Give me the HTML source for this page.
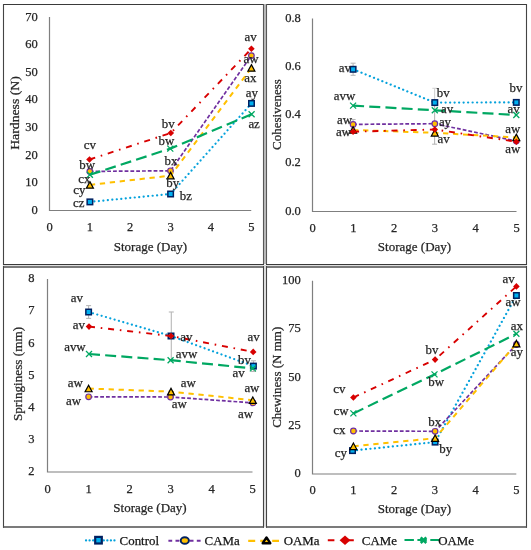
<!DOCTYPE html><html><head><meta charset="utf-8"><style>html,body{margin:0;padding:0;background:#fff;}svg{display:block;}body{position:relative;width:531px;height:550px;overflow:hidden;}</style></head><body>
<svg width="531" height="550" viewBox="0 0 531 550" font-family='"Liberation Serif", serif' fill="#262626">
<rect x="0" y="0" width="531" height="550" fill="#fff"/>
<rect x="264" y="4" width="2" height="260" fill="#bdbdbd"/>
<rect x="264" y="265" width="2" height="262" fill="#e4e4e4"/>
<rect x="3" y="265" width="524" height="1" fill="#dedede"/>
<path d="M3.0,4.5 L264.0,4.5" stroke="#3a3a3a" stroke-width="1.1" fill="none"/>
<path d="M3.5,4 L3.5,265" stroke="#444" stroke-width="1.1" fill="none"/>
<path d="M263.5,4 L263.5,265" stroke="#585858" stroke-width="1.1" fill="none"/>
<path d="M3.0,264.5 L264.0,264.5" stroke="#3a3a3a" stroke-width="1.1" fill="none"/>
<path d="M3.0,267 L264.0,267" stroke="#7a7a7a" stroke-width="2" fill="none"/>
<path d="M3.5,266 L3.5,527.8" stroke="#444" stroke-width="1.1" fill="none"/>
<path d="M263.5,266 L263.5,527.8" stroke="#444" stroke-width="1.1" fill="none"/>
<path d="M3.0,527 L264.0,527" stroke="#4f4f4f" stroke-width="1.6" fill="none"/>
<path d="M266.0,4.5 L527.0,4.5" stroke="#3a3a3a" stroke-width="1.1" fill="none"/>
<path d="M266.5,4 L266.5,265" stroke="#585858" stroke-width="1.1" fill="none"/>
<path d="M526.5,4 L526.5,265" stroke="#444" stroke-width="1.1" fill="none"/>
<path d="M266.0,264.5 L527.0,264.5" stroke="#3a3a3a" stroke-width="1.1" fill="none"/>
<path d="M266.0,267 L527.0,267" stroke="#7a7a7a" stroke-width="2" fill="none"/>
<path d="M266.5,266 L266.5,527.8" stroke="#444" stroke-width="1.1" fill="none"/>
<path d="M526.5,266 L526.5,527.8" stroke="#444" stroke-width="1.1" fill="none"/>
<path d="M266.0,527 L527.0,527" stroke="#4f4f4f" stroke-width="1.6" fill="none"/>
<g>
<path d="M49.5,17 L49.5,210.5 L251.25,210.5" fill="none" stroke="#7f7f7f" stroke-width="1.2"/>
<path d="M89.90,201.90 L170.60,194.00 L251.50,103.40" fill="none" stroke="#05a2dc" stroke-width="2.2" stroke-dasharray="0.1 4.4" stroke-linecap="round"/>
<rect x="87.15" y="199.15" width="5.50" height="5.50" fill="#00b0f0" stroke="#002060" stroke-width="1.5"/>
<rect x="167.85" y="191.25" width="5.50" height="5.50" fill="#00b0f0" stroke="#002060" stroke-width="1.5"/>
<rect x="248.75" y="100.65" width="5.50" height="5.50" fill="#00b0f0" stroke="#002060" stroke-width="1.5"/>
<path d="M89.80,171.40 L170.50,170.80 L251.40,55.60" fill="none" stroke="#7030a0" stroke-width="1.7" stroke-dasharray="3.8 2.0" stroke-linecap="butt"/>
<ellipse cx="89.8" cy="171.4" rx="2.80" ry="2.80" fill="#ffc000" stroke="#7030a0" stroke-width="1.2"/>
<ellipse cx="170.5" cy="170.8" rx="2.80" ry="2.80" fill="#ffc000" stroke="#7030a0" stroke-width="1.2"/>
<ellipse cx="251.4" cy="55.6" rx="2.80" ry="2.80" fill="#ffc000" stroke="#7030a0" stroke-width="1.2"/>
<path d="M89.90,184.90 L170.60,175.60 L251.40,67.90" fill="none" stroke="#ffc000" stroke-width="2.0" stroke-dasharray="5.3 4.7" stroke-linecap="butt"/>
<path d="M89.90,181.65 L93.40,188.15 L86.40,188.15 Z" fill="#ffc000" stroke="#000" stroke-width="1.2" stroke-linejoin="miter"/>
<path d="M170.60,172.35 L174.10,178.85 L167.10,178.85 Z" fill="#ffc000" stroke="#000" stroke-width="1.2" stroke-linejoin="miter"/>
<path d="M251.40,64.65 L254.90,71.15 L247.90,71.15 Z" fill="#ffc000" stroke="#000" stroke-width="1.2" stroke-linejoin="miter"/>
<path d="M89.50,159.50 L170.80,133.00 L251.40,48.80" fill="none" stroke="#d80000" stroke-width="1.9" stroke-dasharray="6 5.8 1.6 5.8" stroke-linecap="butt"/>
<path d="M89.50,156.20 L92.80,159.50 L89.50,162.80 L86.20,159.50 Z" fill="#d80000"/>
<path d="M170.80,129.70 L174.10,133.00 L170.80,136.30 L167.50,133.00 Z" fill="#d80000"/>
<path d="M251.40,45.50 L254.70,48.80 L251.40,52.10 L248.10,48.80 Z" fill="#d80000"/>
<path d="M89.90,174.80 L170.30,148.60 L251.60,114.20" fill="none" stroke="#00a862" stroke-width="2.2" stroke-dasharray="11 5.2" stroke-linecap="butt"/>
<path d="M86.90,171.80 L92.90,177.80 M92.90,171.80 L86.90,177.80" stroke="#00a862" stroke-width="1.3" fill="none"/>
<path d="M167.30,145.60 L173.30,151.60 M173.30,145.60 L167.30,151.60" stroke="#00a862" stroke-width="1.3" fill="none"/>
<path d="M248.60,111.20 L254.60,117.20 M254.60,111.20 L248.60,117.20" stroke="#00a862" stroke-width="1.3" fill="none"/>
</g>
<g>
<path d="M312.5,18.4 L312.5,211.5 L516.5,211.5" fill="none" stroke="#7f7f7f" stroke-width="1.2"/>
<path d="M353.1,63.2 L353.1,75.3" stroke="#b8b8b8" stroke-width="1.1" fill="none"/>
<path d="M350.6,63.2 L355.6,63.2" stroke="#b8b8b8" stroke-width="1.1"/>
<path d="M350.6,75.3 L355.6,75.3" stroke="#b8b8b8" stroke-width="1.1"/>
<path d="M353.1,119.5 L353.1,129.0" stroke="#b8b8b8" stroke-width="1.1" fill="none"/>
<path d="M350.6,119.5 L355.6,119.5" stroke="#b8b8b8" stroke-width="1.1"/>
<path d="M350.6,129.0 L355.6,129.0" stroke="#b8b8b8" stroke-width="1.1"/>
<path d="M434.6,102 L434.6,144.2" stroke="#b8b8b8" stroke-width="1.1" fill="none"/>
<path d="M432.1,144.2 L437.1,144.2" stroke="#b8b8b8" stroke-width="1.1"/>
<path d="M434.6,88.3 L434.6,102" stroke="#d2d2d2" stroke-width="1.1" fill="none"/>
<path d="M432.35,88.3 L436.85,88.3" stroke="#d2d2d2" stroke-width="1.1"/>
<path d="M353.10,69.30 L434.80,102.60 L516.30,102.40" fill="none" stroke="#05a2dc" stroke-width="2.2" stroke-dasharray="0.1 4.4" stroke-linecap="round"/>
<rect x="350.35" y="66.55" width="5.50" height="5.50" fill="#00b0f0" stroke="#002060" stroke-width="1.5"/>
<rect x="432.05" y="99.85" width="5.50" height="5.50" fill="#00b0f0" stroke="#002060" stroke-width="1.5"/>
<rect x="513.55" y="99.65" width="5.50" height="5.50" fill="#00b0f0" stroke="#002060" stroke-width="1.5"/>
<path d="M353.10,124.40 L434.80,123.70 L516.30,141.00" fill="none" stroke="#7030a0" stroke-width="1.7" stroke-dasharray="3.8 2.0" stroke-linecap="butt"/>
<ellipse cx="353.1" cy="124.4" rx="2.80" ry="2.80" fill="#ffc000" stroke="#7030a0" stroke-width="1.2"/>
<ellipse cx="434.8" cy="123.7" rx="2.80" ry="2.80" fill="#ffc000" stroke="#7030a0" stroke-width="1.2"/>
<ellipse cx="516.3" cy="141.0" rx="2.80" ry="2.80" fill="#ffc000" stroke="#7030a0" stroke-width="1.2"/>
<path d="M353.10,130.00 L434.80,132.80 L516.30,137.40" fill="none" stroke="#ffc000" stroke-width="2.0" stroke-dasharray="5.3 4.7" stroke-linecap="butt"/>
<path d="M353.10,126.75 L356.60,133.25 L349.60,133.25 Z" fill="#ffc000" stroke="#000" stroke-width="1.2" stroke-linejoin="miter"/>
<path d="M434.80,129.55 L438.30,136.05 L431.30,136.05 Z" fill="#ffc000" stroke="#000" stroke-width="1.2" stroke-linejoin="miter"/>
<path d="M516.30,134.15 L519.80,140.65 L512.80,140.65 Z" fill="#ffc000" stroke="#000" stroke-width="1.2" stroke-linejoin="miter"/>
<path d="M353.10,131.70 L434.80,129.50 L516.30,141.70" fill="none" stroke="#d80000" stroke-width="1.9" stroke-dasharray="6 5.8 1.6 5.8" stroke-linecap="butt"/>
<path d="M353.10,128.40 L356.40,131.70 L353.10,135.00 L349.80,131.70 Z" fill="#d80000"/>
<path d="M434.80,126.20 L438.10,129.50 L434.80,132.80 L431.50,129.50 Z" fill="#d80000"/>
<path d="M516.30,138.40 L519.60,141.70 L516.30,145.00 L513.00,141.70 Z" fill="#d80000"/>
<path d="M353.10,105.60 L434.80,110.30 L516.30,115.00" fill="none" stroke="#00a862" stroke-width="2.2" stroke-dasharray="11 5.2" stroke-linecap="butt"/>
<path d="M350.10,102.60 L356.10,108.60 M356.10,102.60 L350.10,108.60" stroke="#00a862" stroke-width="1.3" fill="none"/>
<path d="M431.80,107.30 L437.80,113.30 M437.80,107.30 L431.80,113.30" stroke="#00a862" stroke-width="1.3" fill="none"/>
<path d="M513.30,112.00 L519.30,118.00 M519.30,112.00 L513.30,118.00" stroke="#00a862" stroke-width="1.3" fill="none"/>
</g>
<g>
<path d="M47.5,279 L47.5,472 L252.5,472" fill="none" stroke="#7f7f7f" stroke-width="1.2"/>
<path d="M88.6,305.6 L88.6,318.4" stroke="#b8b8b8" stroke-width="1.1" fill="none"/>
<path d="M86.1,305.6 L91.1,305.6" stroke="#b8b8b8" stroke-width="1.1"/>
<path d="M86.1,318.4 L91.1,318.4" stroke="#b8b8b8" stroke-width="1.1"/>
<path d="M171.3,312 L171.3,360" stroke="#b8b8b8" stroke-width="1.1" fill="none"/>
<path d="M168.8,312 L173.8,312" stroke="#b8b8b8" stroke-width="1.1"/>
<path d="M168.8,360 L173.8,360" stroke="#b8b8b8" stroke-width="1.1"/>
<path d="M253.5,360.8 L253.5,371.5" stroke="#b8b8b8" stroke-width="1.1" fill="none"/>
<path d="M251.0,360.8 L256.0,360.8" stroke="#b8b8b8" stroke-width="1.1"/>
<path d="M251.0,371.5 L256.0,371.5" stroke="#b8b8b8" stroke-width="1.1"/>
<path d="M88.60,312.00 L171.00,336.00 L253.40,366.10" fill="none" stroke="#05a2dc" stroke-width="2.2" stroke-dasharray="0.1 4.4" stroke-linecap="round"/>
<rect x="85.85" y="309.25" width="5.50" height="5.50" fill="#00b0f0" stroke="#002060" stroke-width="1.5"/>
<rect x="168.25" y="333.25" width="5.50" height="5.50" fill="#00b0f0" stroke="#002060" stroke-width="1.5"/>
<rect x="250.65" y="363.35" width="5.50" height="5.50" fill="#00b0f0" stroke="#002060" stroke-width="1.5"/>
<path d="M88.60,396.80 L170.50,397.00 L253.00,402.90" fill="none" stroke="#7030a0" stroke-width="1.7" stroke-dasharray="3.8 2.0" stroke-linecap="butt"/>
<ellipse cx="88.6" cy="396.8" rx="2.80" ry="2.80" fill="#ffc000" stroke="#7030a0" stroke-width="1.2"/>
<ellipse cx="170.5" cy="397.0" rx="2.80" ry="2.80" fill="#ffc000" stroke="#7030a0" stroke-width="1.2"/>
<ellipse cx="253.0" cy="402.9" rx="2.80" ry="2.80" fill="#ffc000" stroke="#7030a0" stroke-width="1.2"/>
<path d="M88.60,388.50 L171.00,391.60 L252.80,400.20" fill="none" stroke="#ffc000" stroke-width="2.0" stroke-dasharray="5.3 4.7" stroke-linecap="butt"/>
<path d="M88.60,385.25 L92.10,391.75 L85.10,391.75 Z" fill="#ffc000" stroke="#000" stroke-width="1.2" stroke-linejoin="miter"/>
<path d="M171.00,388.35 L174.50,394.85 L167.50,394.85 Z" fill="#ffc000" stroke="#000" stroke-width="1.2" stroke-linejoin="miter"/>
<path d="M252.80,396.95 L256.30,403.45 L249.30,403.45 Z" fill="#ffc000" stroke="#000" stroke-width="1.2" stroke-linejoin="miter"/>
<path d="M89.00,326.60 L171.00,336.00 L253.20,351.90" fill="none" stroke="#d80000" stroke-width="1.9" stroke-dasharray="6 5.8 1.6 5.8" stroke-linecap="butt"/>
<path d="M89.00,323.30 L92.30,326.60 L89.00,329.90 L85.70,326.60 Z" fill="#d80000"/>
<path d="M171.00,332.70 L174.30,336.00 L171.00,339.30 L167.70,336.00 Z" fill="#d80000"/>
<path d="M253.20,348.60 L256.50,351.90 L253.20,355.20 L249.90,351.90 Z" fill="#d80000"/>
<path d="M89.00,354.00 L170.60,360.20 L252.90,368.40" fill="none" stroke="#00a862" stroke-width="2.2" stroke-dasharray="11 5.2" stroke-linecap="butt"/>
<path d="M86.00,351.00 L92.00,357.00 M92.00,351.00 L86.00,357.00" stroke="#00a862" stroke-width="1.3" fill="none"/>
<path d="M167.60,357.20 L173.60,363.20 M173.60,357.20 L167.60,363.20" stroke="#00a862" stroke-width="1.3" fill="none"/>
<path d="M249.90,365.40 L255.90,371.40 M255.90,365.40 L249.90,371.40" stroke="#00a862" stroke-width="1.3" fill="none"/>
</g>
<g>
<path d="M312.5,280.8 L312.5,474 L516.3,474" fill="none" stroke="#7f7f7f" stroke-width="1.2"/>
<path d="M352.50,450.60 L435.10,442.10 L516.40,295.50" fill="none" stroke="#05a2dc" stroke-width="2.2" stroke-dasharray="0.1 4.4" stroke-linecap="round"/>
<rect x="349.75" y="447.85" width="5.50" height="5.50" fill="#00b0f0" stroke="#002060" stroke-width="1.5"/>
<rect x="432.35" y="439.35" width="5.50" height="5.50" fill="#00b0f0" stroke="#002060" stroke-width="1.5"/>
<rect x="513.65" y="292.75" width="5.50" height="5.50" fill="#00b0f0" stroke="#002060" stroke-width="1.5"/>
<path d="M353.40,431.00 L435.10,431.30 L516.40,344.50" fill="none" stroke="#7030a0" stroke-width="1.7" stroke-dasharray="3.8 2.0" stroke-linecap="butt"/>
<ellipse cx="353.4" cy="431.0" rx="2.80" ry="2.80" fill="#ffc000" stroke="#7030a0" stroke-width="1.2"/>
<ellipse cx="435.1" cy="431.3" rx="2.80" ry="2.80" fill="#ffc000" stroke="#7030a0" stroke-width="1.2"/>
<ellipse cx="516.4" cy="344.5" rx="2.80" ry="2.80" fill="#ffc000" stroke="#7030a0" stroke-width="1.2"/>
<path d="M353.40,446.30 L435.10,438.20 L516.40,343.60" fill="none" stroke="#ffc000" stroke-width="2.0" stroke-dasharray="5.3 4.7" stroke-linecap="butt"/>
<path d="M353.40,443.05 L356.90,449.55 L349.90,449.55 Z" fill="#ffc000" stroke="#000" stroke-width="1.2" stroke-linejoin="miter"/>
<path d="M435.10,434.95 L438.60,441.45 L431.60,441.45 Z" fill="#ffc000" stroke="#000" stroke-width="1.2" stroke-linejoin="miter"/>
<path d="M516.40,340.35 L519.90,346.85 L512.90,346.85 Z" fill="#ffc000" stroke="#000" stroke-width="1.2" stroke-linejoin="miter"/>
<path d="M353.40,397.50 L435.10,359.60 L516.40,286.40" fill="none" stroke="#d80000" stroke-width="1.9" stroke-dasharray="6 5.8 1.6 5.8" stroke-linecap="butt"/>
<path d="M353.40,394.20 L356.70,397.50 L353.40,400.80 L350.10,397.50 Z" fill="#d80000"/>
<path d="M435.10,356.30 L438.40,359.60 L435.10,362.90 L431.80,359.60 Z" fill="#d80000"/>
<path d="M516.40,283.10 L519.70,286.40 L516.40,289.70 L513.10,286.40 Z" fill="#d80000"/>
<path d="M353.40,413.40 L434.50,374.40 L516.40,333.80" fill="none" stroke="#00a862" stroke-width="2.2" stroke-dasharray="11 5.2" stroke-linecap="butt"/>
<path d="M350.40,410.40 L356.40,416.40 M356.40,410.40 L350.40,416.40" stroke="#00a862" stroke-width="1.3" fill="none"/>
<path d="M431.50,371.40 L437.50,377.40 M437.50,371.40 L431.50,377.40" stroke="#00a862" stroke-width="1.3" fill="none"/>
<path d="M513.40,330.80 L519.40,336.80 M519.40,330.80 L513.40,336.80" stroke="#00a862" stroke-width="1.3" fill="none"/>
</g>
<path d="M86,540.4 L117,540.4" stroke="#05a2dc" stroke-width="2.2" stroke-dasharray="0.1 3.45" stroke-linecap="round" fill="none"/>
<rect x="95.20" y="536.90" width="6.60" height="6.60" fill="#00b0f0" stroke="#002060" stroke-width="2.2"/>
<path d="M168.4,540.8 L201,540.8" stroke="#7030a0" stroke-width="2" stroke-dasharray="3.8 3.3" fill="none"/>
<ellipse cx="184.8" cy="540.5" rx="4.1" ry="3.3" fill="#ffc000" stroke="#002060" stroke-width="2"/>
<path d="M248.2,540.9 L279,540.9" stroke="#ffc000" stroke-width="2.1" stroke-dasharray="7 5" fill="none"/>
<path d="M266.5,537.4 L270.3,543.2 L262.7,543.2 Z" fill="#ffc000" stroke="#000" stroke-width="2.4" stroke-linejoin="round"/>
<path d="M327.8,540.3 L334.4,540.3 M349,540.3 L353.8,540.3" stroke="#d80000" stroke-width="2" fill="none"/>
<path d="M345.00,535.60 L350.40,540.30 L345.00,545.00 L339.60,540.30 Z" fill="#d80000"/>
<path d="M404.5,540.0 L439,540.0" stroke="#00a862" stroke-width="2" stroke-dasharray="9.4 3.5" fill="none"/>
<path d="M420.70,537.40 L426.30,543.00 M426.30,537.40 L420.70,543.00" stroke="#00a862" stroke-width="2.6" fill="none"/>
</svg>
<svg width="531" height="550" viewBox="0 0 531 550" font-family='"Liberation Serif", serif' fill="#262626" stroke="#262626" stroke-width="0.25" style="position:absolute;left:0;top:0;will-change:transform">
<text x="37.7" y="213.7" font-size="12.5" text-anchor="end" >0</text>
<text x="37.7" y="186.13" font-size="12.5" text-anchor="end" >10</text>
<text x="37.7" y="158.56" font-size="12.5" text-anchor="end" >20</text>
<text x="37.7" y="130.98999999999998" font-size="12.5" text-anchor="end" >30</text>
<text x="37.7" y="103.42" font-size="12.5" text-anchor="end" >40</text>
<text x="37.7" y="75.85000000000001" font-size="12.5" text-anchor="end" >50</text>
<text x="37.7" y="48.27999999999999" font-size="12.5" text-anchor="end" >60</text>
<text x="37.7" y="20.70999999999999" font-size="12.5" text-anchor="end" >70</text>
<text x="49.5" y="231.3" font-size="12.5" text-anchor="middle" >0</text>
<text x="89.85" y="231.3" font-size="12.5" text-anchor="middle" >1</text>
<text x="130.2" y="231.3" font-size="12.5" text-anchor="middle" >2</text>
<text x="170.55" y="231.3" font-size="12.5" text-anchor="middle" >3</text>
<text x="210.9" y="231.3" font-size="12.5" text-anchor="middle" >4</text>
<text x="251.25" y="231.3" font-size="12.5" text-anchor="middle" >5</text>
<text x="150.375" y="251.2" font-size="13" text-anchor="middle" >Storage (Day)</text>
<text x="0" y="0" font-size="13.1" text-anchor="middle" transform="translate(18.9,113.0) rotate(-90) scale(1.05,1)">Hardness (N)</text>
<text x="83.8" y="148.70000000000002" font-size="12.9" text-anchor="start" >cv</text>
<text x="79.2" y="169.1" font-size="12.9" text-anchor="start" >bw</text>
<text x="78.3" y="183.0" font-size="12.9" text-anchor="start" >cx</text>
<text x="73.2" y="194.3" font-size="12.9" text-anchor="start" >cy</text>
<text x="73" y="206.9" font-size="12.9" text-anchor="start" >cz</text>
<text x="161.8" y="127.60000000000001" font-size="12.9" text-anchor="start" >bv</text>
<text x="158.6" y="144.5" font-size="12.9" text-anchor="start" >bw</text>
<text x="164.6" y="165.3" font-size="12.9" text-anchor="start" >bx</text>
<text x="166.3" y="187.0" font-size="12.9" text-anchor="start" >by</text>
<text x="179.8" y="200.20000000000002" font-size="12.9" text-anchor="start" >bz</text>
<text x="244.6" y="40.699999999999996" font-size="12.9" text-anchor="start" >av</text>
<text x="243.6" y="63.0" font-size="12.9" text-anchor="start" >aw</text>
<text x="244.2" y="81.7" font-size="12.9" text-anchor="start" >ax</text>
<text x="245.8" y="96.7" font-size="12.9" text-anchor="start" >ay</text>
<text x="248.4" y="127.5" font-size="12.9" text-anchor="start" >az</text>
<text x="300.8" y="214.7" font-size="12.5" text-anchor="end" >0.0</text>
<text x="300.8" y="166.42" font-size="12.5" text-anchor="end" >0.2</text>
<text x="300.8" y="118.14" font-size="12.5" text-anchor="end" >0.4</text>
<text x="300.8" y="69.86" font-size="12.5" text-anchor="end" >0.6</text>
<text x="300.8" y="21.579999999999995" font-size="12.5" text-anchor="end" >0.8</text>
<text x="312.5" y="231.5" font-size="12.5" text-anchor="middle" >0</text>
<text x="353.3" y="231.5" font-size="12.5" text-anchor="middle" >1</text>
<text x="394.1" y="231.5" font-size="12.5" text-anchor="middle" >2</text>
<text x="434.9" y="231.5" font-size="12.5" text-anchor="middle" >3</text>
<text x="475.7" y="231.5" font-size="12.5" text-anchor="middle" >4</text>
<text x="516.5" y="231.5" font-size="12.5" text-anchor="middle" >5</text>
<text x="414.5" y="251.2" font-size="13" text-anchor="middle" >Storage (Day)</text>
<text x="0" y="0" font-size="13" text-anchor="middle" transform="translate(281.2,114.5) rotate(-90) scale(1,1)">Cohesiveness</text>
<text x="338.7" y="72.4" font-size="12.9" text-anchor="start" >av</text>
<text x="333.8" y="99.9" font-size="12.9" text-anchor="start" >avw</text>
<text x="337.1" y="124.0" font-size="12.9" text-anchor="start" >aw</text>
<text x="335.9" y="136.20000000000002" font-size="12.9" text-anchor="start" >aw</text>
<text x="436.7" y="97.10000000000001" font-size="12.9" text-anchor="start" >bv</text>
<text x="441.1" y="112.7" font-size="12.9" text-anchor="start" >av</text>
<text x="438.9" y="125.80000000000001" font-size="12.9" text-anchor="start" >ay</text>
<text x="437.5" y="143.0" font-size="12.9" text-anchor="start" >av</text>
<text x="509.6" y="91.7" font-size="12.9" text-anchor="start" >bv</text>
<text x="507.6" y="112.60000000000001" font-size="12.9" text-anchor="start" >av</text>
<text x="505.2" y="133.4" font-size="12.9" text-anchor="start" >aw</text>
<text x="505.2" y="153.1" font-size="12.9" text-anchor="start" >aw</text>
<text x="34.5" y="475.2" font-size="12.5" text-anchor="end" >2</text>
<text x="34.5" y="443.03" font-size="12.5" text-anchor="end" >3</text>
<text x="34.5" y="410.85999999999996" font-size="12.5" text-anchor="end" >4</text>
<text x="34.5" y="378.69" font-size="12.5" text-anchor="end" >5</text>
<text x="34.5" y="346.52" font-size="12.5" text-anchor="end" >6</text>
<text x="34.5" y="314.34999999999997" font-size="12.5" text-anchor="end" >7</text>
<text x="34.5" y="282.18" font-size="12.5" text-anchor="end" >8</text>
<text x="47.5" y="493.0" font-size="12.5" text-anchor="middle" >0</text>
<text x="88.5" y="493.0" font-size="12.5" text-anchor="middle" >1</text>
<text x="129.5" y="493.0" font-size="12.5" text-anchor="middle" >2</text>
<text x="170.5" y="493.0" font-size="12.5" text-anchor="middle" >3</text>
<text x="211.5" y="493.0" font-size="12.5" text-anchor="middle" >4</text>
<text x="252.5" y="493.0" font-size="12.5" text-anchor="middle" >5</text>
<text x="150.0" y="512" font-size="13" text-anchor="middle" >Storage (Day)</text>
<text x="0" y="0" font-size="13.2" text-anchor="middle" transform="translate(21.5,374.0) rotate(-90) scale(1,1)">Springiness (mm)</text>
<text x="70.8" y="302.0" font-size="12.9" text-anchor="start" >av</text>
<text x="72.8" y="328.8" font-size="12.9" text-anchor="start" >av</text>
<text x="64.2" y="351.0" font-size="12.9" text-anchor="start" >avw</text>
<text x="67.8" y="386.6" font-size="12.9" text-anchor="start" >aw</text>
<text x="66.1" y="404.9" font-size="12.9" text-anchor="start" >aw</text>
<text x="180.2" y="341.0" font-size="12.9" text-anchor="start" >av</text>
<text x="175.8" y="358.0" font-size="12.9" text-anchor="start" >avw</text>
<text x="180.8" y="387.4" font-size="12.9" text-anchor="start" >aw</text>
<text x="171.8" y="407.8" font-size="12.9" text-anchor="start" >aw</text>
<text x="247.5" y="340.7" font-size="12.9" text-anchor="start" >av</text>
<text x="238" y="363.8" font-size="12.9" text-anchor="start" >bv</text>
<text x="232.6" y="376.6" font-size="12.9" text-anchor="start" >av</text>
<text x="244.4" y="392.0" font-size="12.9" text-anchor="start" >aw</text>
<text x="238" y="417.6" font-size="12.9" text-anchor="start" >aw</text>
<text x="300.8" y="477.2" font-size="12.5" text-anchor="end" >0</text>
<text x="300.8" y="428.9" font-size="12.5" text-anchor="end" >25</text>
<text x="300.8" y="380.59999999999997" font-size="12.5" text-anchor="end" >50</text>
<text x="300.8" y="332.3" font-size="12.5" text-anchor="end" >75</text>
<text x="300.8" y="284.0" font-size="12.5" text-anchor="end" >100</text>
<text x="312.5" y="493.8" font-size="12.5" text-anchor="middle" >0</text>
<text x="353.26" y="493.8" font-size="12.5" text-anchor="middle" >1</text>
<text x="394.02" y="493.8" font-size="12.5" text-anchor="middle" >2</text>
<text x="434.78" y="493.8" font-size="12.5" text-anchor="middle" >3</text>
<text x="475.53999999999996" y="493.8" font-size="12.5" text-anchor="middle" >4</text>
<text x="516.3" y="493.8" font-size="12.5" text-anchor="middle" >5</text>
<text x="414.4" y="513" font-size="13" text-anchor="middle" >Storage (Day)</text>
<text x="0" y="0" font-size="13" text-anchor="middle" transform="translate(281.2,377.3) rotate(-90) scale(1,1)">Chewiness (N mm)</text>
<text x="333.3" y="392.79999999999995" font-size="12.9" text-anchor="start" >cv</text>
<text x="333.5" y="414.59999999999997" font-size="12.9" text-anchor="start" >cw</text>
<text x="333.2" y="434.0" font-size="12.9" text-anchor="start" >cx</text>
<text x="334.7" y="456.9" font-size="12.9" text-anchor="start" >cy</text>
<text x="425.5" y="353.9" font-size="12.9" text-anchor="start" >bv</text>
<text x="428.3" y="385.79999999999995" font-size="12.9" text-anchor="start" >bw</text>
<text x="428.3" y="426.2" font-size="12.9" text-anchor="start" >bx</text>
<text x="439.3" y="452.79999999999995" font-size="12.9" text-anchor="start" >by</text>
<text x="502.5" y="282.79999999999995" font-size="12.9" text-anchor="start" >av</text>
<text x="505.6" y="305.9" font-size="12.9" text-anchor="start" >aw</text>
<text x="510.7" y="329.5" font-size="12.9" text-anchor="start" >ax</text>
<text x="510.7" y="355.9" font-size="12.9" text-anchor="start" >ay</text>
<text x="119.6" y="545.3" font-size="12.9" text-anchor="start" fill="#141414" stroke="#141414">Control</text>
<text x="204.6" y="545.3" font-size="12.9" text-anchor="start" fill="#141414" stroke="#141414">CAMa</text>
<text x="283.7" y="545.3" font-size="12.9" text-anchor="start" fill="#141414" stroke="#141414">OAMa</text>
<text x="361.8" y="545.3" font-size="12.9" text-anchor="start" fill="#141414" stroke="#141414">CAMe</text>
<text x="438.2" y="545.3" font-size="12.9" text-anchor="start" fill="#141414" stroke="#141414">OAMe</text>
</svg></body></html>
